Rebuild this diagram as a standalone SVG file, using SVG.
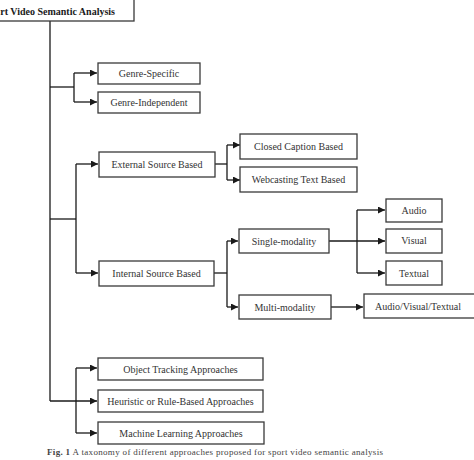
<svg xmlns="http://www.w3.org/2000/svg" width="474" height="460" viewBox="0 0 474 460">
<defs>
<marker id="ah" markerWidth="7" markerHeight="7" refX="7" refY="3.5" orient="auto" markerUnits="userSpaceOnUse">
<path d="M0,0 L7,3.5 L0,7 Z" fill="#1a1a1a"/>
</marker>
<style>
.box{fill:#fff;stroke:#3a3a3a;stroke-width:1.3}
.t{font-family:"Liberation Serif","Times New Roman",serif;font-size:10px;fill:#333;text-anchor:middle}
.tb{font-family:"Liberation Serif","Times New Roman",serif;font-size:10px;font-weight:bold;fill:#1a1a1a;text-anchor:end}
.c{fill:none;stroke:#1a1a1a;stroke-width:1.3}
.a{fill:none;stroke:#1a1a1a;stroke-width:1.3;marker-end:url(#ah)}
.cap{font-family:"Liberation Serif","Times New Roman",serif;font-size:9px;fill:#444}
</style>
</defs>
<rect width="474" height="460" fill="#fff"/>
<g id="connectors">
<path class="c" d="M50,21 V401"/>
<path class="a" d="M50,401 H97"/>
<path class="c" d="M50,87 H74"/>
<path class="c" d="M74,73 V102"/>
<path class="a" d="M74,73 H97"/>
<path class="a" d="M74,102 H97"/>
<path class="c" d="M50,219 H76"/>
<path class="c" d="M76,164 V273"/>
<path class="a" d="M76,164 H98"/>
<path class="a" d="M76,273 H98"/>
<path class="c" d="M215,164 H227"/>
<path class="c" d="M227,145 V180"/>
<path class="a" d="M227,145 H240"/>
<path class="a" d="M227,180 H240"/>
<path class="c" d="M214,273 H227"/>
<path class="c" d="M227,241 V307"/>
<path class="a" d="M227,241 H238"/>
<path class="a" d="M227,307 H238"/>
<path class="a" d="M329,241 H385"/>
<path class="c" d="M357,210 V273"/>
<path class="a" d="M357,210 H385"/>
<path class="a" d="M357,273 H385"/>
<path class="a" d="M331,307 H363"/>
<path class="c" d="M76,368 V433"/>
<path class="a" d="M76,368 H97"/>
<path class="a" d="M76,433 H97"/>
</g>
<g id="root"><rect class="box" x="-40" y="-1" width="174" height="22"/><text class="tb" x="115" y="15">rt Video Semantic Analysis</text></g>
<g id="genre-specific"><rect class="box" x="98" y="63" width="102" height="21"/><text class="t" x="149" y="77">Genre-Specific</text></g>
<g id="genre-independent"><rect class="box" x="98" y="92" width="102" height="21"/><text class="t" x="149" y="106">Genre-Independent</text></g>
<g id="external"><rect class="box" x="99" y="152" width="116" height="25"/><text class="t" x="157" y="168">External Source Based</text></g>
<g id="internal"><rect class="box" x="99" y="261" width="115" height="25"/><text class="t" x="156.5" y="277">Internal Source Based</text></g>
<g id="closed-caption"><rect class="box" x="240" y="134" width="117" height="25"/><text class="t" x="298.5" y="150">Closed Caption Based</text></g>
<g id="webcasting"><rect class="box" x="240" y="167" width="117" height="25"/><text class="t" x="298.5" y="183">Webcasting Text Based</text></g>
<g id="single"><rect class="box" x="239" y="229" width="90" height="24"/><text class="t" x="284" y="245">Single-modality</text></g>
<g id="multi"><rect class="box" x="239" y="295" width="92" height="24"/><text class="t" x="285" y="311">Multi-modality</text></g>
<g id="audio"><rect class="box" x="386" y="199" width="56" height="23"/><text class="t" x="414" y="214">Audio</text></g>
<g id="visual"><rect class="box" x="386" y="229" width="56" height="24"/><text class="t" x="414" y="244">Visual</text></g>
<g id="textual"><rect class="box" x="386" y="261" width="56" height="24"/><text class="t" x="414" y="277">Textual</text></g>
<g id="avt"><rect class="box" x="364" y="294" width="111" height="24"/><text class="t" x="418" y="310">Audio/Visual/Textual</text></g>
<g id="object-tracking"><rect class="box" x="98" y="358" width="165" height="22"/><text class="t" x="180.5" y="373">Object Tracking Approaches</text></g>
<g id="heuristic"><rect class="box" x="98" y="390" width="165" height="22"/><text class="t" x="180.5" y="405">Heuristic or Rule-Based Approaches</text></g>
<g id="machine-learning"><rect class="box" x="98" y="422" width="166" height="22"/><text class="t" x="181" y="437">Machine Learning Approaches</text></g>
<text class="cap" x="47" y="455" textLength="336" lengthAdjust="spacing"><tspan font-weight="bold">Fig. 1</tspan> A taxonomy of different approaches proposed for sport video semantic analysis</text>
</svg>
